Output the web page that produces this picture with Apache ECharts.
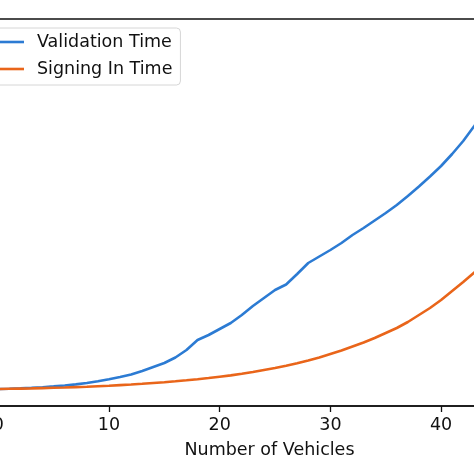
<!DOCTYPE html>
<html>
<head>
<meta charset="utf-8">
<script src="https://cdn.jsdelivr.net/npm/echarts@6/dist/echarts.min.js"></script>
<style>
    html, body { margin: 0; padding: 0; background: #fff; }
    #main { width: 474px; height: 474px; }
</style>
</head>
<body>
<div id="main"></div>
<script>
var vehicles = [];
for (var i = 0; i <= 44; i++) { vehicles.push(i); }

// y axis has no labels so units are arbitrary
var validationTime = [17, 17.3, 17.7, 18.2, 18.8, 19.6, 20.5, 21.6, 23, 24.8,
    26.8, 29, 31.5, 35, 39, 43, 48.5, 56, 66, 71,
    77, 83, 91, 100, 108, 116, 121.5, 132, 143, 149.5,
    156, 163, 171, 178, 185.5, 193, 201, 210, 219.5, 229.5,
    240, 252, 265, 280, 296];
var signingInTime = [17, 17.2, 17.4, 17.6, 17.9, 18.2, 18.5, 18.9, 19.3, 19.8,
    20.3, 20.9, 21.5, 22.2, 23, 23.8, 24.7, 25.7, 26.8, 28,
    29.3, 30.6, 32.2, 34, 36, 38, 40.3, 42.8, 45.5, 48.5,
    52, 55.5, 59.5, 63.5, 68, 73, 78, 84, 91, 98,
    106, 115, 124, 133.5, 145];

function pairs(ys) {
    return vehicles.map(function (x, i) { return [x, ys[i]]; });
}

var myChart = echarts.init(document.getElementById('main'));
var font = 'DejaVu Sans';
var option = {
    backgroundColor: '#fff',
    animation: false,
    textStyle: { fontFamily: font },
    grid: {
        left: -1.7,
        right: -66.7,
        top: 19,
        bottom: 68,
        containLabel: false,
        outerBoundsMode: 'none',
        show: true,
        borderColor: '#111',
        borderWidth: 1.5
    },
    legend: {
        orient: 'vertical',
        left: -14,
        top: 28,
        padding: [4.5, 8, 6.5, 6],
        icon: 'rect',
        itemWidth: 32,
        itemHeight: 2.6,
        itemGap: 8,
        borderColor: '#d6d6d6',
        borderWidth: 1,
        borderRadius: 4,
        backgroundColor: 'rgba(255,255,255,0.8)',
        textStyle: { fontFamily: font, fontSize: 17.5, color: '#111', padding: [0, 0, 0, 8], lineHeight: 19 },
        data: ['Validation Time', 'Signing In Time']
    },
    xAxis: {
        type: 'value',
        min: 0,
        max: 49,
        interval: 10,
        name: 'Number of Vehicles',
        nameLocation: 'middle',
        nameGap: 35,
        nameTextStyle: { fontFamily: font, fontSize: 17.5, color: '#111' },
        splitLine: { show: false },
        axisLine: { lineStyle: { color: '#111', width: 1.5 } },
        axisTick: { length: 6, lineStyle: { color: '#111', width: 1.3 } },
        axisLabel: { margin: 10, fontFamily: font, fontSize: 17.5, color: '#111', showMinLabel: true }
    },
    yAxis: {
        type: 'value',
        min: 0,
        max: 387,
        show: false
    },
    series: [
        {
            name: 'Validation Time',
            type: 'line',
            data: pairs(validationTime),
            showSymbol: false,
            symbol: 'none',
            lineStyle: { color: '#2c7bd3', width: 2.6 },
            itemStyle: { color: '#2c7bd3' }
        },
        {
            name: 'Signing In Time',
            type: 'line',
            data: pairs(signingInTime),
            showSymbol: false,
            symbol: 'none',
            lineStyle: { color: '#e9651a', width: 2.6 },
            itemStyle: { color: '#e9651a' }
        }
    ]
};
myChart.setOption(option);
</script>
</body>
</html>
